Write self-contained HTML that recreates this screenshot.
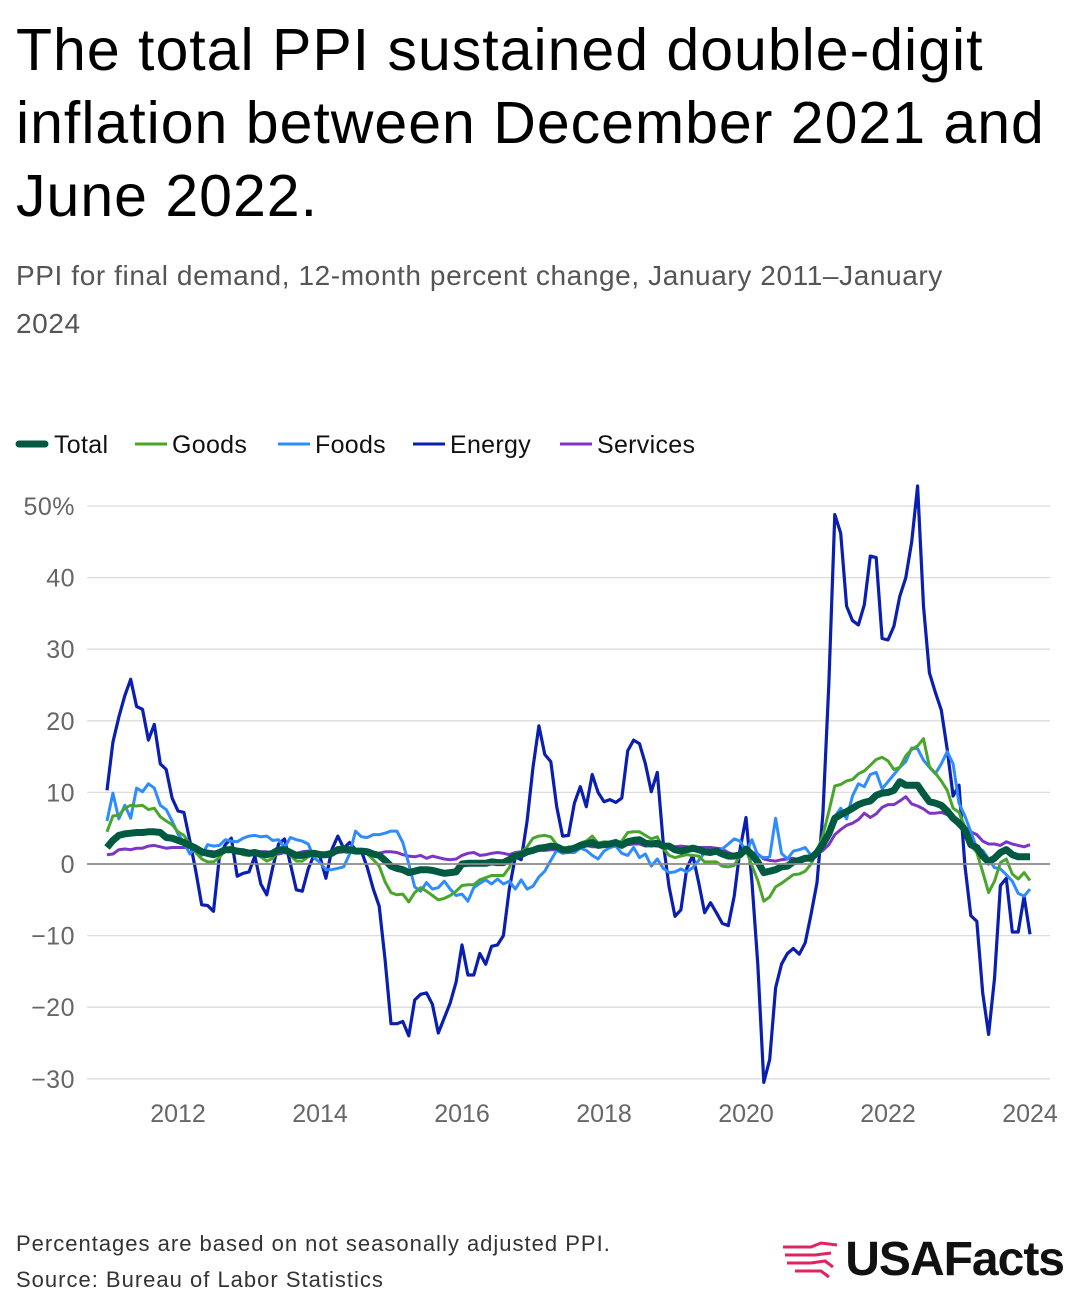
<!DOCTYPE html>
<html><head><meta charset="utf-8"><style>
body{margin:0;width:1080px;height:1312px;background:#fff;font-family:"Liberation Sans",sans-serif;overflow:hidden;position:relative}
#title{position:absolute;left:16px;top:14px;font-size:59px;line-height:73px;color:#000;font-weight:500;letter-spacing:1px;margin:0;white-space:nowrap}
#sub{position:absolute;left:16px;top:252px;font-size:28px;line-height:48px;color:#555;margin:0;width:960px;letter-spacing:0.6px}
.foot{position:absolute;left:16px;font-size:22px;color:#333;letter-spacing:1px}
#logo{position:absolute;right:16px;top:1232px;font-size:48px;font-weight:bold;color:#111;letter-spacing:-1px}
</style></head><body>
<h1 id="title">The total PPI sustained double-digit<br>inflation between December 2021 and<br>June 2022.</h1>
<p id="sub">PPI for final demand, 12-month percent change, January 2011–January 2024</p>
<svg id="chart" width="1080" height="1312" style="position:absolute;left:0;top:0"></svg>
<div class="foot" style="top:1231px">Percentages are based on not seasonally adjusted PPI.</div>
<div class="foot" style="top:1267px">Source: Bureau of Labor Statistics</div>
<div id="logo"><svg width="58" height="40" viewBox="0 0 58 40" style="vertical-align:-4px;margin-right:6px"><g fill="none" stroke="#e0245e" stroke-width="3"><path d="M2 8 L30 8 L40 4 L56 6"/><path d="M4 16 L34 16 L50 14"/><path d="M6 24 L30 24 L44 22 L52 28"/><path d="M14 32 L40 32 L48 38"/></g></svg>USAFacts</div>
<script>
const yTicks=[50,40,30,20,10,0,-10,-20,-30];
const yTickLabels=["50%","40","30","20","10","0","−10","−20","−30"];
const xTicks=[2012,2014,2016,2018,2020,2022,2024];
const seriesNames=["Total","Goods","Foods","Energy","Services"];
const total=[2.3,3.3,4,4.2,4.3,4.4,4.4,4.5,4.5,4.4,3.7,3.6,3.3,3,2.6,2.2,1.7,1.5,1.3,1.6,2,2,1.8,1.7,1.5,1.6,1.4,1.3,1.5,2,2,1.6,1.2,1.2,1.4,1.5,1.3,1.3,1.5,2,2.1,2,1.8,1.8,1.7,1.4,1.2,0.5,-0.3,-0.6,-0.8,-1.2,-1,-0.8,-0.8,-0.9,-1.1,-1.3,-1.2,-1.1,0,0.1,0.1,0.1,0.1,0.3,0.2,0.2,0.6,1.1,1.3,1.7,1.9,2.2,2.3,2.5,2.4,2,2,2.2,2.6,2.8,3,2.6,2.7,2.8,3,2.6,3.1,3.3,3.4,2.9,2.8,2.9,2.5,2.5,2,1.8,2,2.2,2,1.7,1.6,1.8,1.4,1.1,1.1,1.3,2.1,1.3,0.3,-1.2,-1,-0.8,-0.4,-0.3,0.3,0.5,0.8,0.8,1.6,2.8,4.2,6.4,6.9,7.3,7.8,8.3,8.6,8.8,9.6,9.9,10,10.3,11.5,11,11,11,9.8,8.7,8.5,8.2,7.4,6.4,5.7,4.8,2.7,2.3,1.1,0.3,0.8,1.6,2,1.3,1,1,1.0];
const goods=[4.5,6.7,6.8,7.8,8.2,8.1,8.2,7.6,7.8,6.6,6,5.5,4.5,4,2.8,1.6,0.7,0.3,0.3,0.9,2,2.4,1.6,1.3,1.2,1.4,1,0.4,0.8,1.8,2,1.2,0.4,0.4,1,1.4,1,1.5,1.7,2.3,2.4,2.2,2,1.8,1.4,0.6,-0.3,-2.5,-4,-4.3,-4.2,-5.3,-4,-3.3,-3.8,-4.4,-5,-4.8,-4.4,-3.8,-3,-2.9,-2.9,-2.2,-1.9,-1.6,-1.6,-1.6,-0.5,1.5,1.6,2.4,3.6,3.9,4,3.8,2.7,2,2.4,2.2,2.9,3.2,3.9,2.9,3.1,3,2.8,3.2,4.4,4.5,4.5,4,3.5,3.8,2.2,1.2,0.9,1.1,1.3,1.2,1.1,0.3,0.3,0.3,-0.3,-0.4,-0.2,1.2,2,-0.2,-2.3,-5.2,-4.6,-3.2,-2.7,-2.1,-1.5,-1.4,-1,0,1.8,4,7.3,10.9,11.1,11.6,11.8,12.6,13,13.8,14.6,14.9,14.4,13.2,13.5,15.1,16,16.5,17.5,13.6,12.7,11.6,10.3,7.8,7.2,5.2,2.6,1.6,-1.1,-4,-2.4,0.2,0.7,-1.4,-2.1,-1.2,-2.3];
const foods=[6,9.9,6.3,8.2,6.4,10.6,10.1,11.2,10.6,8.2,7.6,6,4.2,3,1.4,2.4,1.2,2.7,2.5,2.6,3.4,3.2,3.1,3.6,3.9,4,3.8,3.9,3.3,3.4,2.3,3.7,3.4,3.2,2.8,0.9,0.2,-0.8,-0.8,-0.6,-0.4,1.4,4.6,3.8,3.7,4.1,4.1,4.3,4.6,4.6,3,0,-3.2,-3.8,-2.6,-3.5,-3.3,-2.4,-3.5,-4.4,-4.2,-5.2,-3.3,-2.7,-2.2,-2.8,-2.1,-2.8,-2.4,-3.5,-2.2,-3.5,-3.1,-1.8,-1,0.5,1.9,1.5,1.6,1.6,2.2,1.9,1.2,0.7,1.8,2.3,2.5,1.5,1.2,2.3,0.9,1.4,-0.3,0.7,-0.6,-1.2,-1.1,-0.7,-1.1,-0.5,0.5,1.6,1.9,1.6,2.1,2.8,3.5,3.2,1.7,3.4,1.2,0.9,1,6.4,1.5,0.7,1.8,2,2.3,1.2,1.6,3,4.6,6.6,7.8,6.3,9.5,11.2,10.8,12.5,12.8,10.5,11.5,12.5,13.5,14.3,16.2,16.1,14.5,13.5,12.6,14,15.7,14,8.5,6.7,4.5,2.2,1.9,0.7,-0.5,-0.7,-1.5,-2.4,-4.1,-4.5,-3.5];
const energy=[10.3,17,20.5,23.5,25.8,22,21.6,17.3,19.5,14,13.2,9.2,7.4,7.2,3.3,-1,-5.7,-5.8,-6.6,1,2.7,3.6,-1.7,-1.3,-1.1,1.1,-2.8,-4.3,-0.5,2.8,3.5,0,-3.6,-3.8,-0.7,1.3,1,-2,2,3.9,2.2,3,2,1.8,-0.5,-3.5,-5.9,-13.4,-22.3,-22.3,-22,-24,-19,-18.2,-18,-19.6,-23.6,-21.5,-19.4,-16.5,-11.3,-15.5,-15.5,-12.5,-14,-11.5,-11.3,-10,-3.5,1,0.6,6,13.5,19.3,15.3,14.3,8,3.9,4,8.5,10.8,8,12.5,10,8.7,9,8.6,9.2,15.8,17.3,16.8,14,10.1,12.8,3,-3.2,-7.3,-6.4,-0.6,1.2,-2.6,-6.8,-5.4,-6.8,-8.3,-8.6,-4.5,2.1,6.5,-2.4,-14,-30.5,-27.3,-17.3,-14,-12.5,-11.8,-12.6,-11,-7,-2.6,7,25,48.8,46.2,36,34,33.4,36.2,43,42.8,31.5,31.3,33.2,37.4,40,45,52.8,36,26.7,24,21.5,16,9.5,11,-0.2,-7.2,-8,-18,-23.8,-16,-3,-2,-9.5,-9.5,-4.5,-9.8];
const services=[1.3,1.4,2,2.1,2,2.2,2.2,2.5,2.6,2.4,2.2,2.3,2.3,2.3,2.3,2.1,1.9,1.8,1.7,1.6,1.8,1.9,1.9,2,1.8,1.6,1.7,1.7,1.4,1.4,1.6,1.4,1.5,1.7,1.8,1.7,1.6,1.4,1.5,1.6,1.7,1.6,1.8,1.9,2,1.6,1.5,1.7,1.7,1.6,1.3,1.1,1,1.2,0.8,1.1,0.9,0.7,0.6,0.7,1.2,1.5,1.6,1.2,1.3,1.5,1.6,1.5,1.3,1.6,1.7,1.9,1.8,1.9,1.9,2,2,2.1,2.2,2.3,2.5,2.6,2.4,2.4,2.5,2.6,2.8,2.6,2.7,2.8,2.8,2.5,2.6,2.5,2.6,2.5,2.4,2.5,2.4,2.3,2.3,2.3,2.3,2.2,2.1,1.6,1.3,1.2,1.8,1.6,1.4,0.7,0.5,0.4,0.6,0.7,0.8,0.6,1,1.2,1.3,1.9,2.7,4.1,4.8,5.4,5.7,6.2,7.1,6.5,7,7.9,8.3,8.3,8.8,9.4,8.4,8.1,7.7,7.1,7.1,7.2,6.9,6.3,5.6,5.1,4.5,4.1,3.2,2.8,2.8,2.6,3.1,2.8,2.6,2.4,2.7];

const NS="http://www.w3.org/2000/svg";
const svg=document.getElementById('chart');
const x0=107, monthW=(1030-178)/144;
const xm=i=>x0+i*monthW;
const xy=y=>178+(y-2012)*12*monthW;
const yv=v=>864-v*(864-506)/50;
function mk(tag,attrs){const e=document.createElementNS(NS,tag);for(const k in attrs)e.setAttribute(k,attrs[k]);svg.appendChild(e);return e;}
yTicks.forEach((t,i)=>{
  if(t!==0){const g=mk('line',{x1:87,x2:1050,y1:yv(t),y2:yv(t),stroke:'#dcdcd8','stroke-width':1.3});
  
  }
  const l=mk('text',{x:75,y:yv(t)+9,'text-anchor':'end','font-size':25,fill:'#666','font-family':'Liberation Sans, sans-serif','letter-spacing':'0.5'});
  l.textContent=yTickLabels[i];
  
  
});
xTicks.forEach(t=>{
  const l=mk('text',{x:xy(t),y:1122,'text-anchor':'middle','font-size':25,fill:'#666','font-family':'Liberation Sans, sans-serif'});
  l.textContent=t;
  
  
});
const colors=['#005a41','#4aa62a','#2e8cff','#0a1eb0','#7d35c6'];
const widths=[7,3,3,3.2,3];
const data=[total,goods,foods,energy,services];
const order=[3,4,2,1,0];
order.forEach(si=>{
  const d=data[si].map((v,i)=>(i?'L':'M')+xm(i).toFixed(1)+' '+yv(v).toFixed(1)).join(' ');
  const p=mk('path',{d:d,fill:'none',stroke:colors[si],'stroke-width':widths[si],'stroke-linejoin':'round'});
  
  
});
const zl=mk('line',{x1:87,x2:1050,y1:yv(0),y2:yv(0),stroke:'#8a8a8a','stroke-width':1.8});


const legX=[16,135,278,413,560];
seriesNames.forEach((n,i)=>{
  const lx=legX[i];
  const s=mk('line',{x1:lx+(i===0?3:0),x2:lx+(i===0?29:32),y1:444,y2:444,stroke:colors[i],'stroke-width':i===0?7:3,'stroke-linecap':i===0?'round':'butt'});
  
  
  const t=mk('text',{x:lx+(i===0?38:37),y:453,'font-size':25,fill:'#111','font-family':'Liberation Sans, sans-serif','letter-spacing':'0.3'});
  t.textContent=n;
  
  
});
</script>
</body></html>
